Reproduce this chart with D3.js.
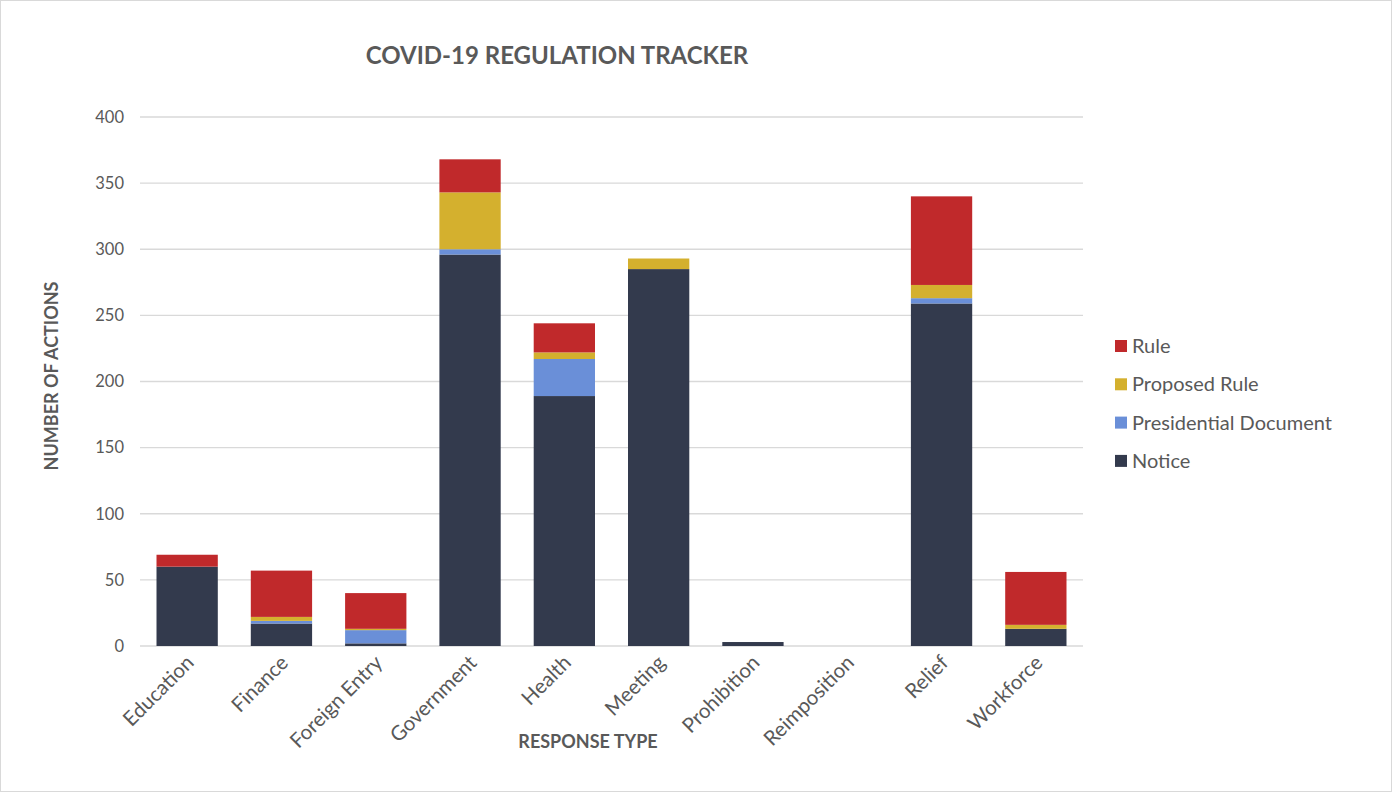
<!DOCTYPE html>
<html>
<head>
<meta charset="utf-8">
<script src="https://cdn.jsdelivr.net/npm/d3@7"></script>
<style>
  body { margin: 0; background: #fff; }
  text { font-family: Lato, "Open Sans", sans-serif; fill: #595959; }
</style>
</head>
<body>
<svg id="chart" width="1392" height="792"></svg>
<script>
// values
const categories = ['Education', 'Finance', 'Foreign Entry', 'Government', 'Health',
  'Meeting', 'Prohibition', 'Reimposition', 'Relief', 'Workforce'];
const notice = [60, 17, 2, 296, 189, 285, 3, 0, 259, 13];
const presidential = [0, 2, 10, 4, 28, 0, 0, 0, 4, 0];
const proposed = [0, 3, 1, 43, 5, 8, 0, 0, 10, 3];
const rule = [9, 35, 27, 25, 22, 0, 0, 0, 67, 40];
const yTicks = [0, 50, 100, 150, 200, 250, 300, 350, 400];

const seriesNames = ['Notice', 'Presidential Document', 'Proposed Rule', 'Rule'];
const colors = ['#333a4d', '#6a8fd8', '#d4b02e', '#c0292b'];

const svg = d3.select('#chart');
const margin = { left: 140, right: 1083, top: 117, bottom: 646 };

// border round the whole picture
svg.append('rect')
  .attr('x', 0.5).attr('y', 0.5)
  .attr('width', 1391).attr('height', 791)
  .attr('fill', '#fff')
  .attr('stroke', '#d9d9d9');

const rows = categories.map((c, i) => ({
  category: c,
  'Notice': notice[i],
  'Presidential Document': presidential[i],
  'Proposed Rule': proposed[i],
  'Rule': rule[i]
}));

const stacked = d3.stack().keys(seriesNames)(rows);

const x = d3.scaleBand()
  .domain(categories)
  .range([margin.left, margin.right])
  .paddingInner(0.35)
  .paddingOuter(0.175);

const y = d3.scaleLinear()
  .domain([0, 400])
  .range([margin.bottom, margin.top]);

// gridlines
svg.append('g')
  .selectAll('line')
  .data(yTicks)
  .join('line')
  .attr('x1', margin.left)
  .attr('x2', margin.right)
  .attr('y1', d => y(d))
  .attr('y2', d => y(d))
  .attr('stroke', '#d9d9d9')
  .attr('stroke-width', 1.3);

// y tick labels
svg.append('g')
  .selectAll('text')
  .data(yTicks)
  .join('text')
  .attr('x', 124)
  .attr('y', d => y(d))
  .attr('dy', '0.35em')
  .attr('text-anchor', 'end')
  .attr('font-size', 16.5)
  .text(d => d);

// bars
svg.append('g')
  .selectAll('g')
  .data(stacked)
  .join('g')
  .attr('fill', (d, i) => colors[i])
  .selectAll('rect')
  .data(d => d)
  .join('rect')
  .attr('x', d => x(d.data.category))
  .attr('width', x.bandwidth())
  .attr('y', d => y(d[1]))
  .attr('height', d => y(d[0]) - y(d[1]));

// x category labels, rotated
svg.append('g')
  .selectAll('text')
  .data(categories)
  .join('text')
  .attr('text-anchor', 'end')
  .attr('font-size', 20.5)
  .attr('transform', d => `translate(${x(d) + x.bandwidth() / 2 + 8},${margin.bottom + 18}) rotate(-45)`)
  .text(d => d);

// titles
svg.append('text')
  .attr('x', 557)
  .attr('y', 64)
  .attr('text-anchor', 'middle')
  .attr('font-size', 24)
  .attr('font-weight', 'bold')
  .text('COVID-19 REGULATION TRACKER');

svg.append('text')
  .attr('x', 588)
  .attr('y', 748)
  .attr('text-anchor', 'middle')
  .attr('font-size', 18)
  .attr('font-weight', 'bold')
  .text('RESPONSE TYPE');

svg.append('text')
  .attr('transform', 'translate(58,376) rotate(-90)')
  .attr('text-anchor', 'middle')
  .attr('font-size', 18)
  .attr('font-weight', 'bold')
  .text('NUMBER OF ACTIONS');

// legend, Rule on top
const legendItems = seriesNames.map((n, i) => ({ name: n, color: colors[i] })).reverse();
const legend = svg.append('g')
  .selectAll('g')
  .data(legendItems)
  .join('g')
  .attr('transform', (d, i) => `translate(1115,${346 + i * 38.3})`);

legend.append('rect')
  .attr('x', 0).attr('y', -6)
  .attr('width', 12).attr('height', 12)
  .attr('fill', d => d.color);

legend.append('text')
  .attr('x', 17)
  .attr('dy', '0.35em')
  .attr('font-size', 20)
  .text(d => d.name);
</script>
</body>
</html>
